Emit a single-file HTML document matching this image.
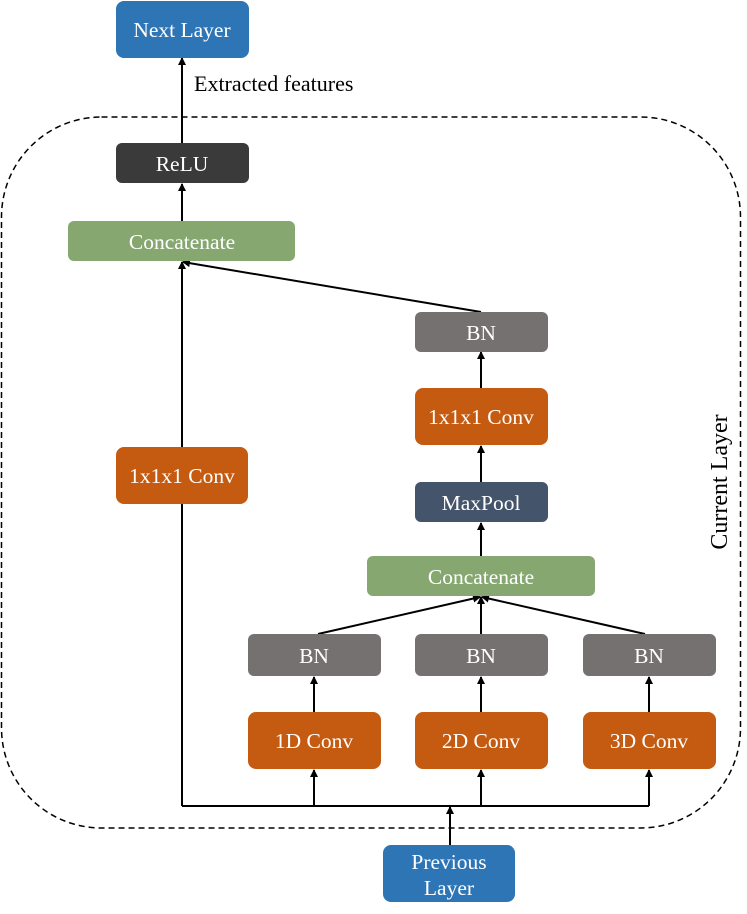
<!DOCTYPE html>
<html><head><meta charset="utf-8"><style>
body{margin:0;background:#fff;}
svg{display:block;}
text{font-family:"Liberation Serif",serif;fill:#fff;text-anchor:middle;}
</style></head><body>
<svg width="747" height="914" viewBox="0 0 747 914" xmlns="http://www.w3.org/2000/svg">
<defs><marker id="a" markerWidth="8" markerHeight="9" refX="7" refY="4.5" orient="auto" markerUnits="userSpaceOnUse"><path d="M0,0.5 L8,4.5 L0,8.5 Z" fill="#000"/></marker></defs>
<rect x="1.5" y="117" width="739" height="711" rx="100" ry="100" fill="none" stroke="#000" stroke-width="1.5" stroke-dasharray="6,4"/>
<g stroke="#000" stroke-width="2" fill="none">
<line x1="182" y1="143" x2="182" y2="58" marker-end="url(#a)"/>
<line x1="182" y1="221" x2="182" y2="184" marker-end="url(#a)"/>
<line x1="182" y1="806" x2="182" y2="262" marker-end="url(#a)"/>
<line x1="481" y1="312" x2="183" y2="262" marker-end="url(#a)"/>
<line x1="481" y1="388" x2="481" y2="352" marker-end="url(#a)"/>
<line x1="481" y1="482" x2="481" y2="446" marker-end="url(#a)"/>
<line x1="481" y1="556" x2="481" y2="523" marker-end="url(#a)"/>
<line x1="481" y1="634" x2="481" y2="597" marker-end="url(#a)"/>
<line x1="318" y1="634" x2="480" y2="597" marker-end="url(#a)"/>
<line x1="645" y1="634" x2="482" y2="597" marker-end="url(#a)"/>
<line x1="314" y1="712" x2="314" y2="677" marker-end="url(#a)"/>
<line x1="481" y1="712" x2="481" y2="677" marker-end="url(#a)"/>
<line x1="649" y1="712" x2="649" y2="677" marker-end="url(#a)"/>
<polyline points="182,806 649,806"/>
<line x1="314" y1="806" x2="314" y2="770" marker-end="url(#a)"/>
<line x1="481" y1="806" x2="481" y2="770" marker-end="url(#a)"/>
<line x1="649" y1="806" x2="649" y2="770" marker-end="url(#a)"/>
<line x1="450" y1="845" x2="450" y2="807" marker-end="url(#a)"/>
</g>
<g font-size="21.5">
<rect x="116" y="1" width="133" height="57" rx="8" fill="#2e75b6"/>
<text x="182" y="37">Next Layer</text>
<text x="194" y="91" font-size="22" style="fill:#000;text-anchor:start">Extracted features</text>
<rect x="116" y="143" width="133" height="40" rx="6" fill="#3a3a3a"/>
<text x="182" y="171">ReLU</text>
<rect x="68" y="221" width="227" height="40" rx="6" fill="#86a870"/>
<text x="182" y="249">Concatenate</text>
<rect x="116" y="447" width="132" height="57" rx="8" fill="#c55a11"/>
<text x="182" y="483">1x1x1 Conv</text>
<rect x="415" y="312" width="133" height="40" rx="6" fill="#767171"/>
<text x="481" y="340">BN</text>
<rect x="415" y="388" width="133" height="57" rx="8" fill="#c55a11"/>
<text x="481" y="424">1x1x1 Conv</text>
<rect x="415" y="482" width="133" height="40" rx="6" fill="#44546a"/>
<text x="481" y="510">MaxPool</text>
<rect x="367" y="556" width="228" height="40" rx="6" fill="#86a870"/>
<text x="481" y="584">Concatenate</text>
<rect x="248" y="634" width="133" height="42" rx="6" fill="#767171"/>
<text x="314" y="663">BN</text>
<rect x="415" y="634" width="133" height="42" rx="6" fill="#767171"/>
<text x="481" y="663">BN</text>
<rect x="583" y="634" width="133" height="42" rx="6" fill="#767171"/>
<text x="649" y="663">BN</text>
<rect x="248" y="712" width="133" height="57" rx="8" fill="#c55a11"/>
<text x="314" y="748">1D Conv</text>
<rect x="415" y="712" width="133" height="57" rx="8" fill="#c55a11"/>
<text x="481" y="748">2D Conv</text>
<rect x="583" y="712" width="133" height="57" rx="8" fill="#c55a11"/>
<text x="649" y="748">3D Conv</text>
<rect x="383" y="845" width="132" height="57" rx="8" fill="#2e75b6"/>
<text x="449" y="869">Previous</text>
<text x="449" y="895">Layer</text>
</g>
<text x="0" y="0" font-size="24" transform="translate(727,482) rotate(-90)" style="fill:#000">Current Layer</text>
</svg>
</body></html>
